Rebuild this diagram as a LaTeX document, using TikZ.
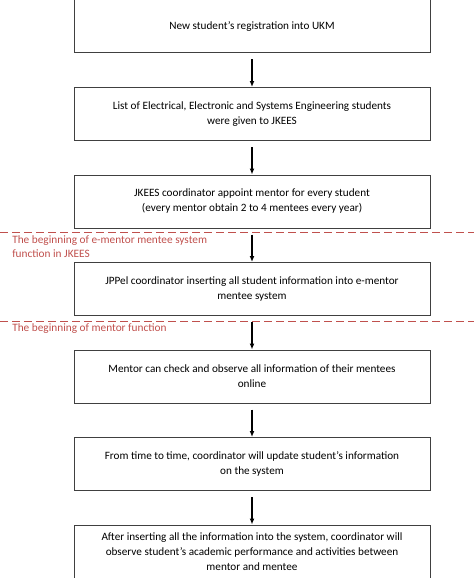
\documentclass[tikz,border=0pt]{standalone}
\usepackage{fontspec}
\setmainfont{Carlito}
\usepackage{xcolor}
\usetikzlibrary{arrows.meta}
\usetikzlibrary{positioning}
\definecolor{sepred}{HTML}{C0504D}

\begin{document}
\begin{tikzpicture}[x=1pt,y=-1pt,-,node distance=87.5pt,semithick]
	\tikzstyle{stepbox}=[draw=black!75, line width=1pt, fill=white, minimum width=356pt, minimum height=53pt, align=center, inner sep=6pt, font=\fontsize{11.2}{15}\selectfont]
	\tikzstyle{flow}=[-{Latex[length=6pt,width=5pt]}, line width=1.4pt, shorten <=6pt]
	\tikzstyle{sepline}=[draw=sepred, line width=0.9pt, dash pattern=on 8pt off 4pt]
	\tikzstyle{seplabel}=[text=sepred, align=left, anchor=west, inner sep=0pt, font=\fontsize{11.3}{13.5}\selectfont]
	\useasboundingbox (0,0) rectangle (474,578);

	\node[stepbox] (reg) at (252,26.5) {New student’s registration into UKM};
	\node[stepbox] (list) [below of=reg] {List of Electrical, Electronic and Systems Engineering students\\were given to JKEES};
	\node[stepbox] (appoint) [below of=list] {JKEES coordinator appoint mentor for every student\\(every mentor obtain 2 to 4 mentees every year)};
	\node[stepbox] (insert) [below of=appoint] {JPPel coordinator inserting all student information into e-mentor\\mentee system};
	\node[stepbox] (check) [below of=insert] {Mentor can check and observe all information of their mentees\\online};
	\node[stepbox] (update) [below of=check] {From time to time, coordinator will update student’s information\\on the system};
	\node[stepbox] (observe) [below of=update] {After inserting all the information into the system, coordinator will\\observe student’s academic performance and activities between\\mentor and mentee};

	% separators
	\coordinate (sepA) at (0,232);
	\coordinate (sepB) at (0,321);
	\draw[sepline] (sepA) -- ++(474,0);
	\draw[sepline] (sepB) -- ++(474,0);
	\node[seplabel] (labA) at (12,246.5) {The beginning of e-mentor mentee system\\function in JKEES};
	\node[seplabel] (labB) at (12,329) {The beginning of mentor function};

	\foreach \a/\b in {reg/list,list/appoint,appoint/insert,insert/check,check/update,update/observe}{
		\draw[flow] (\a) -- (\b);
		}
\end{tikzpicture}
\end{document}
